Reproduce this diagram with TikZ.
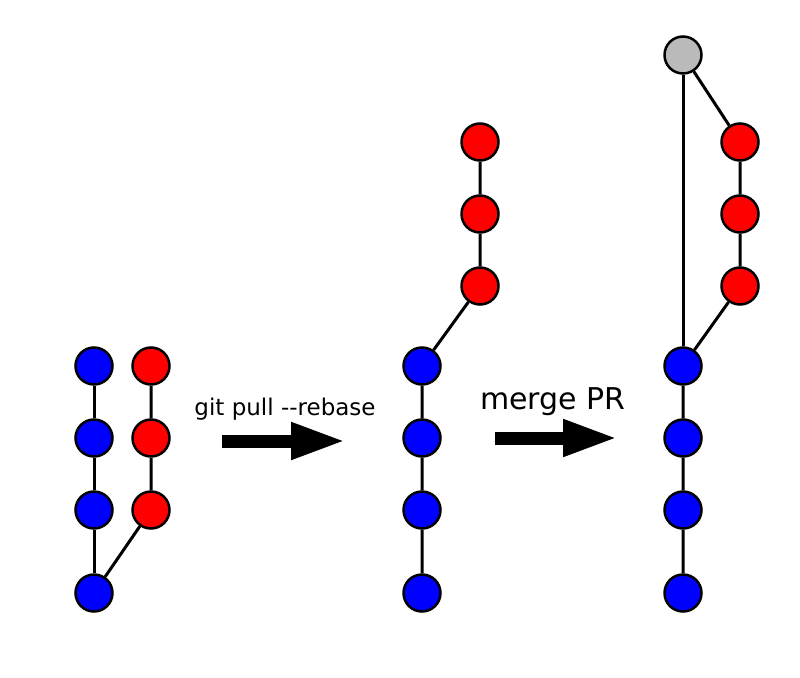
\documentclass[tikz,border=0pt]{standalone}
\usepackage{fontspec}
\setmainfont{DejaVu Sans}
\usetikzlibrary{arrows.meta}

\tikzset{
  commit/.style={circle, draw=black, line width=2.5pt, minimum size=37pt, inner sep=0pt},
  local/.style={commit, fill=red},
  base/.style={commit, fill=blue},
  mergec/.style={commit, fill=black!27},
  link/.style={line width=3pt},
  bigarrow/.style={line width=13pt, -{Triangle[length=55pt,width=34pt]}}
}

\begin{document}
\begin{tikzpicture}[x=1pt, y=-1pt]
  \useasboundingbox (0,0) rectangle (800,677);

  % before: local branch beside master
  \node[base] (l1) at (94,366) {};
  \node[base] (l2) at (94,438) {};
  \node[base] (l3) at (94,510) {};
  \node[base] (l4) at (94,593) {};
  \node[local] (lr1) at (151,366) {};
  \node[local] (lr2) at (151,438) {};
  \node[local] (lr3) at (151,510) {};
  \draw[link] (l1) -- (l2) -- (l3) -- (l4);
  \draw[link] (lr1) -- (lr2) -- (lr3) -- (l4);

  % rebase arrow
  \node[font=\fontsize{23}{26}\selectfont] (pull) at (285,409) {git pull {-}{-}rebase};
  \coordinate (pullA) at (222,441);
  \coordinate (pullB) at (346,441);
  \draw[bigarrow] (pullA) -- (pullB);

  % after rebase: local commits on top
  \node[base] (m1) at (422,366) {};
  \node[base] (m2) at (422,438) {};
  \node[base] (m3) at (422,510) {};
  \node[base] (m4) at (422,593) {};
  \node[local] (mr1) at (480,142) {};
  \node[local] (mr2) at (480,214) {};
  \node[local] (mr3) at (480,286) {};
  \draw[link] (m4) -- (m3) -- (m2) -- (m1) -- (mr3) -- (mr2) -- (mr1);

  % merge arrow
  \node[font=\fontsize{30}{34}\selectfont] (pr) at (553,402) {merge PR};
  \coordinate (prA) at (495,438);
  \coordinate (prB) at (618,438);
  \draw[bigarrow] (prA) -- (prB);

  % after merge
  \node[base] (r1) at (683,366) {};
  \node[base] (r2) at (683,438) {};
  \node[base] (r3) at (683,510) {};
  \node[base] (r4) at (683,593) {};
  \node[local] (rr1) at (740,142) {};
  \node[local] (rr2) at (740,214) {};
  \node[local] (rr3) at (740,286) {};
  \node[mergec] (top) at (683,55) {};
  \draw[link] (r4) -- (r3) -- (r2) -- (r1) -- (rr3) -- (rr2) -- (rr1) -- (top);
  \draw[link] (r1) -- (top);
\end{tikzpicture}
\end{document}
